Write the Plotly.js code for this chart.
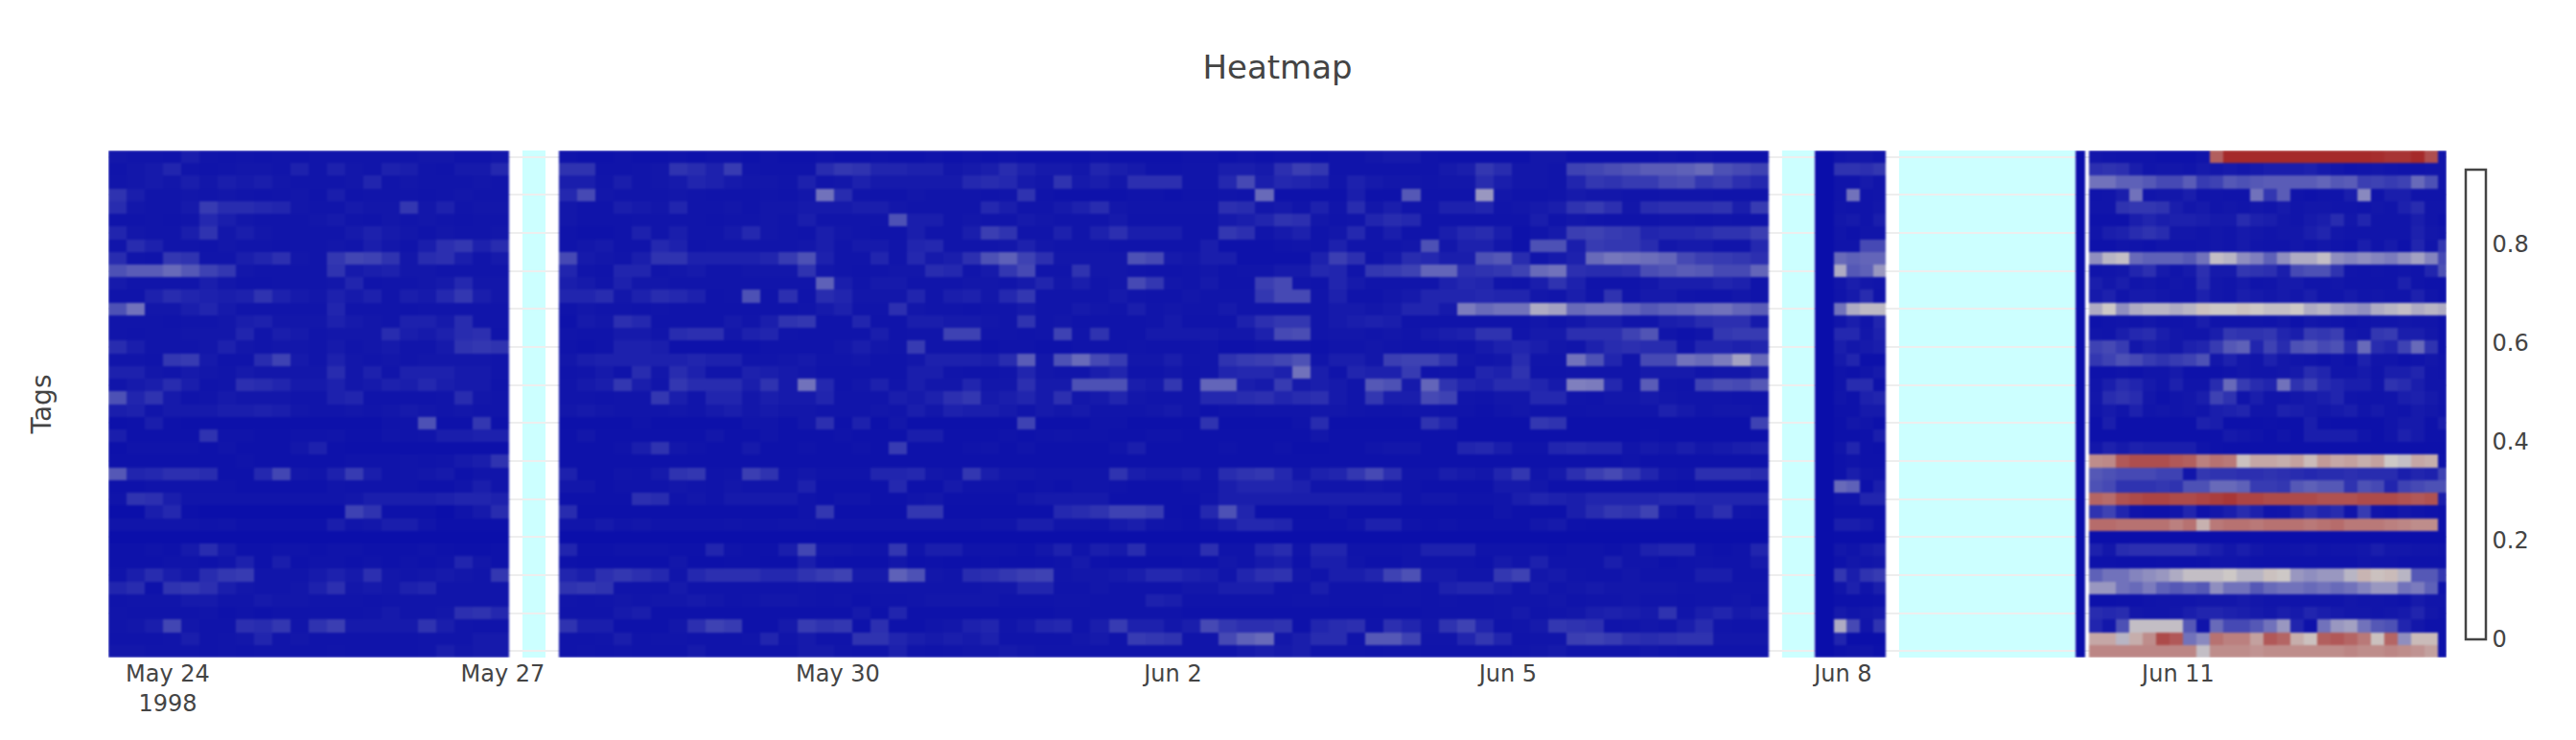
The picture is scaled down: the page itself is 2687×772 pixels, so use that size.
<!DOCTYPE html>
<html>
<head>
<meta charset="utf-8">
<script src="https://cdn.plot.ly/plotly-3.0.1.min.js"></script>
<style>html,body{margin:0;padding:0;background:#fff}
.heatmaplayer image{filter:blur(0.9px)}</style>
</head>
<body>
<div id="chart" style="width:2687px;height:772px"></div>
<script>
// Cell values in hundredths, one array per tag, top row first. null = no data.
const t00=[6,5,5,4,8,5,4,5,4,5,4,5,5,5,5,5,5,6,6,4,4,6, null, 4,3,3,4,3,3,4,3,4,4,3,4,3,3,4,3,3, 4,3,3,4,3,4,3,4,3,3,3,3,4,3,3,3,3, 4,4,3,4,3,4,4,3,4,4,6,7,7,4,3,3,3, 3,3,6,6,3,3,3,3,3,4,3,4,3,3,3, null,0, 5,6,6,4, null,0,null, 6,5,4,4,4,3,3,3,5,80,96,96,96,96,96,96,96,96,96,96,96,95,93,93,96,85, 5];
const t01=[4,6,7,10,5,4,5,6,6,5,9,5,9,6,5,9,8,5,4,7,7,11, null, 14,14,4,4,5,6,14,12,9,16,5,4,4,4,12,15,14, 10,10,9,9,6,7,8,12,9,7,7,6,10,8,7,4,4, 5,5,8,8,7,13,17,15,4,4,4,4,4,4,7,8,15, 12,6,6,5,18,19,21,23,25,25,26,28,22,20,18, null,0, 14,14,13,15, null,0,null, 13,14,13,8,5,6,6,5,7,6,7,6,7,8,8,8,9,7,6,4,5,6,5,4,4,5, 5];
const t02=[5,6,7,6,8,6,8,7,8,6,5,5,5,6,10,5,6,5,5,5,6,5, null, 8,8,5,8,5,6,7,10,9,7,6,6,5,9,5,6,9, 7,7,7,7,7,11,12,11,7,6,14,7,8,6,13,13,13, 5,5,11,20,8,11,10,9,5,9,7,6,6,5,6,6,12, 8,6,6,5,10,15,14,16,16,20,21,15,17,13,11, null,0, 4,4,7,5, null,0,null, 30,30,26,26,24,20,20,25,16,18,24,22,24,25,25,25,25,27,24,25,17,18,16,18,28,22, 5];
const t03=[14,8,5,5,6,5,6,5,4,5,6,4,8,4,5,5,5,4,5,6,5,5, null, 11,20,6,5,5,5,6,5,4,4,4,5,4,6,30,12,5, 4,4,6,5,5,5,4,5,14,4,3,3,3,3,4,4,3, 4,4,5,4,28,3,3,3,3,8,3,3,24,4,4,4,38, 6,4,4,5,7,6,6,5,4,5,5,5,4,4,4, null,0, 4,30,4,5, null,0,null, 4,5,8,30,5,6,6,8,4,5,4,4,30,15,25,4,3,4,4,8,35,4,8,8,4,4, 4];
const t04=[12,6,5,5,7,16,12,12,11,10,6,5,5,7,6,6,15,6,9,5,6,6, null, 6,4,4,8,7,6,10,5,5,6,4,6,6,7,7,7,8, 8,6,5,5,5,5,11,8,5,5,7,9,12,6,5,5,5, 5,5,13,12,6,7,5,9,5,12,6,8,5,5,9,9,10, 5,6,7,8,14,16,13,6,12,13,13,13,14,8,16, null,0, 5,4,4,6, null,0,null, 5,5,14,15,15,14,8,6,7,5,6,5,6,5,7,5,6,6,5,5,4,6,5,9,12,5, 5];
const t05=[4,4,5,4,5,11,8,6,5,5,5,6,7,5,4,6,5,6,5,4,5,5, null, 6,4,4,4,5,5,5,5,4,5,5,6,5,8,5,5,5, 5,22,8,8,5,6,5,5,7,6,5,5,5,7,4,4,4, 4,4,7,8,10,14,13,6,4,5,10,12,11,4,4,4,4, 4,4,8,4,6,5,4,4,4,5,5,4,5,4,4, null,0, 6,7,4,8, null,0,null, 3,3,3,8,10,8,9,9,8,7,7,12,9,8,6,5,7,8,12,6,10,5,5,5,8,5, 3];
const t06=[10,6,5,5,8,14,6,8,6,5,5,5,5,7,9,7,6,4,6,5,5,6, null, 4,3,3,4,9,5,8,5,5,7,11,6,5,4,8,6,5, 4,4,8,5,5,8,17,14,5,5,9,5,9,13,8,8,8, 4,4,15,13,5,7,9,4,6,11,5,8,4,4,8,11,12, 8,3,5,7,17,18,16,15,10,11,11,12,14,14,17, null,0, 5,3,5,5, null,0,null, 5,8,9,12,14,12,6,6,5,6,5,7,6,5,6,6,8,10,6,5,5,5,5,5,9,6, 5];
const t07=[5,12,9,5,5,4,6,5,5,4,5,5,6,5,8,6,4,8,13,15,9,12, null, 4,6,7,4,4,11,9,4,5,5,5,5,5,6,8,5,7, 7,5,10,11,5,5,5,6,9,6,5,5,5,4,4,4,4, 4,8,3,3,3,4,5,4,9,5,5,5,6,22,6,9,9, 6,3,22,22,8,16,15,15,12,6,7,7,5,5,11, null,0, 4,4,20,20, null,0,null, 3,3,5,4,3,5,4,4,5,6,5,7,5,4,4,6,4,6,4,3,8,4,7,3,10,5, 15];
const t08=[12,5,4,15,14,5,5,8,10,13,6,5,15,19,18,14,6,12,13,8,5,7, null, 20,7,6,5,8,14,14,9,9,9,9,10,16,22,9,5,5, 10,5,11,7,8,13,22,26,18,13,6,6,6,6,22,20,7, 6,8,8,3,3,3,3,9,17,13,4,7,12,11,8,8,22, 24,12,5,7,9,28,31,30,29,27,20,17,16,15,13, null,0, 28,26,27,27, null,0,null, 36,44,46,28,26,26,26,24,30,46,44,36,33,26,36,42,42,46,36,34,36,34,32,36,40,34, 20];
const t09=[22,25,25,28,24,18,15,6,5,5,5,5,14,7,8,9,6,6,5,5,5,5, null, 10,5,4,10,10,5,6,7,5,5,6,6,6,14,6,5,4, 5,6,6,12,11,5,7,15,20,5,5,14,6,6,5,4,4, 5,6,4,5,5,7,7,11,10,5,15,16,18,27,27,13,14, 15,18,28,30,13,12,12,13,21,23,25,24,20,20,27, null,0, 42,24,26,38, null,0,null, 4,5,6,10,13,7,5,7,13,7,7,15,14,13,8,20,22,22,14,5,4,5,4,5,4,10, 22];
const t10=[7,5,5,5,5,8,6,4,4,5,5,5,6,10,4,5,5,6,7,11,6,6, null, 8,7,5,9,6,6,5,5,5,5,5,5,5,5,26,8,5, 7,7,5,5,5,6,6,5,7,10,6,8,5,6,20,15,6, 5,7,4,4,17,20,5,4,10,7,5,5,5,5,9,11,10, 5,4,8,14,9,4,4,4,6,8,8,8,10,9,4, null,0, 5,8,6,5, null,0,null, 8,6,8,5,6,4,6,5,12,6,5,7,4,5,7,7,5,5,6,4,4,4,4,9,4,3, 3];
const t11=[4,4,9,12,10,9,8,9,14,9,7,6,9,7,9,5,8,7,11,15,8,6, null, 10,10,12,6,9,12,11,9,4,5,22,4,13,4,12,10,6, 6,6,10,5,8,9,6,11,15,5,5,5,5,7,5,4,4, 6,5,5,5,15,20,20,5,9,4,4,6,7,10,10,10,11, 10,10,6,5,8,5,14,5,7,7,5,4,4,6,4, null,0, 4,7,12,4, null,0,null, 7,9,5,7,7,6,5,5,9,6,5,8,7,6,7,6,8,5,5,7,5,6,5,5,9,5, 3];
const t12=[22,30,6,6,8,10,7,5,5,5,5,5,10,5,5,5,4,5,5,5,5,5, null, 4,6,5,5,4,5,4,4,4,4,4,4,4,5,7,9,5, 5,13,6,5,5,4,5,5,7,5,5,7,6,5,8,5,6, 5,5,7,5,5,5,5,5,7,7,6,7,10,10,7,32,28, 30,30,42,40,28,30,30,27,24,26,27,29,30,27,25, null,0, 30,42,45,45, null,0,null, 42,48,36,42,44,44,42,44,50,48,48,50,48,46,46,48,42,44,40,38,36,42,44,46,42,44, 42];
const t13=[5,5,5,4,5,5,6,8,9,6,6,6,9,7,6,5,9,9,7,12,5,5, null, 3,7,6,13,11,4,4,4,4,7,5,8,14,15,4,4,10, 4,4,8,8,7,7,6,5,14,5,6,4,4,4,4,5,7, 4,4,4,9,13,15,15,5,7,8,9,8,4,4,4,4,4, 4,4,6,4,6,8,8,5,5,8,9,12,13,13,7, null,0, 5,8,5,10, null,0,null, 3,4,5,4,6,4,4,5,8,4,4,4,5,4,6,3,6,5,4,3,4,5,5,6,5,5, 3];
const t14=[5,4,5,5,6,6,6,10,5,8,7,5,6,6,6,12,8,7,9,12,13,4, null, 5,4,4,7,7,5,12,13,13,6,9,10,5,4,4,4,4, 8,4,5,5,18,18,5,5,4,5,18,5,14,4,4,7,7, 7,7,6,6,9,20,21,5,6,6,5,6,5,7,8,9,14, 14,5,7,7,13,13,13,18,23,5,3,5,15,16,16, null,0, 11,11,6,9, null,0,null, 5,4,8,11,12,8,6,5,5,8,15,14,14,15,10,8,16,15,17,6,5,15,16,8,8,6, 3];
const t15=[12,8,5,5,5,6,9,6,5,6,6,5,7,5,6,7,5,5,7,14,15,14, null, 4,3,4,9,9,8,3,3,3,3,3,4,4,4,4,6,8, 6,5,16,5,5,5,3,4,4,3,3,4,4,4,5,4,4, 4,5,3,3,4,4,4,3,5,5,6,5,4,4,5,4,7, 9,10,8,6,5,9,12,13,12,12,5,10,10,9,10, null,0, 8,6,7,8, null,0,null, 18,20,16,6,8,7,6,9,10,16,24,26,10,18,12,22,24,20,22,12,28,12,10,18,28,14, 3];
const t16=[5,5,4,15,16,7,4,4,12,18,7,5,9,6,5,6,5,6,6,6,6,5, null, 6,8,9,9,9,9,9,10,9,9,5,5,6,7,5,5,6, 4,4,6,9,9,9,8,12,25,6,22,28,20,16,6,6,8, 5,5,14,16,17,19,22,5,8,8,6,17,18,18,14,6,5, 6,12,5,5,30,22,10,5,20,20,30,28,32,40,28, null,0, 7,10,2,2, null,0,null, 15,18,22,20,16,14,16,18,22,6,9,6,5,9,6,5,4,3,5,3,9,5,5,3,4,6, 4];
const t17=[9,9,6,5,7,6,5,7,6,6,6,6,12,6,9,5,9,9,9,7,7,5, null, 4,5,7,4,12,6,12,9,5,5,9,8,7,6,4,4,4, 4,4,8,8,5,4,4,5,10,6,5,5,8,10,4,4,6, 4,5,10,11,11,9,30,8,4,10,9,9,16,4,5,4,10, 9,14,4,4,5,5,5,5,7,7,7,5,6,6,8, null,0, 4,3,5,7, null,0,null, 3,3,4,3,5,5,7,3,3,3,4,6,5,5,6,7,12,10,5,5,7,4,8,8,10,5, 4];
const t18=[5,7,8,12,8,4,5,13,12,10,7,7,9,6,7,9,8,11,8,7,7,4, null, 5,7,8,15,8,5,15,12,12,12,8,14,7,30,11,4,6, 9,5,8,6,6,10,6,6,13,7,7,22,22,22,8,7,15, 5,27,27,8,7,16,7,8,7,5,24,22,7,27,14,10,9, 12,12,10,7,33,32,11,5,25,5,4,18,21,20,24, null,0, 4,12,12,3, null,0,null, 5,8,12,10,7,5,9,5,5,12,28,16,12,10,30,14,18,12,10,8,8,5,14,12,8,5, 5];
const t19=[22,10,14,7,4,5,7,6,6,6,5,5,9,10,4,4,4,4,5,12,6,5, null, 5,5,4,5,5,15,8,5,10,10,6,8,7,7,10,5,5, 5,8,7,9,13,15,7,8,10,7,13,6,7,10,6,5,5, 5,11,11,12,13,10,12,13,7,5,15,8,8,20,18,5,4, 6,6,11,11,5,4,6,6,7,6,5,5,5,4,4, null,0, 5,3,9,10, null,0,null, 6,12,14,12,6,3,5,6,8,18,14,4,8,5,5,6,7,8,10,5,4,4,5,8,9,7, 5];
const t20=[8,9,5,7,7,7,8,8,9,8,6,5,5,6,5,6,7,6,5,6,5,5, null, 6,7,6,5,5,5,6,5,7,8,6,7,6,6,5,5,5, 6,5,8,6,9,8,8,7,5,7,6,7,5,5,5,6,7, 5,3,4,4,5,5,5,6,6,5,4,4,5,5,4,4,3, 5,6,4,4,4,5,5,5,5,9,7,5,6,6,5, null,0, 3,3,7,7, null,0,null, 5,7,5,9,5,6,5,6,5,8,9,10,5,5,9,8,7,6,7,8,5,7,5,4,7,6, 4];
const t21=[2,3,8,3,2,2,2,2,2,2,2,2,2,2,2,4,4,22,3,3,15,3, null, 2,2,2,2,4,2,2,2,2,2,5,5,3,6,13,3,9, 2,6,2,2,2,2,2,2,18,2,2,2,4,4,2,2,2, 2,14,2,2,2,2,4,12,2,2,2,2,2,14,10,2,2, 2,2,15,14,2,2,2,2,2,2,2,2,2,2,18, null,0, 2,6,5,2, null,0,null, 2,8,2,2,2,2,2,2,9,8,2,2,2,3,2,2,8,3,2,2,2,2,5,7,7,3, 8];
const t22=[8,3,3,3,3,14,4,4,3,3,4,4,5,3,3,5,4,5,8,8,9,9, null, 3,6,3,3,3,3,3,3,6,3,3,5,3,3,3,4,3, 3,3,8,8,3,3,3,4,3,4,5,4,4,3,3,4,4, 3,3,3,3,3,3,3,6,3,3,3,3,3,3,3,2,2, 2,2,2,2,2,2,2,2,3,2,2,2,2,2,2, null,0, 2,2,3,8, null,0,null, 2,2,2,2,2,2,2,2,2,3,7,6,4,2,5,2,8,8,8,8,5,2,5,9,7,3, 3];
const t23=[2,4,4,4,4,3,5,3,3,3,6,9,3,2,2,2,2,2,2,2,2,2, null, 3,3,3,4,8,14,6,4,3,3,7,3,3,4,3,3,4, 3,16,3,3,3,4,5,3,5,3,3,3,3,5,8,3,3, 3,3,4,3,3,4,2,2,3,3,5,6,6,3,3,10,11, 8,4,4,10,11,10,10,5,7,6,8,6,7,8,9, null,0, 5,10,3,2, null,0,null, 6,9,7,9,8,8,8,8,4,3,2,2,2,2,2,2,2,2,2,2,2,2,2,2,2,2, 2];
const t24=[3,3,3,3,3,3,3,4,3,3,3,3,3,4,4,4,5,4,5,7,8,14, null, 3,3,3,3,3,3,3,3,3,3,3,3,3,3,3,3,3, 3,3,3,3,3,3,3,3,3,3,3,3,3,3,3,3,3, 3,3,3,3,3,3,3,3,3,3,3,3,3,3,3,3,3, 3,3,3,3,3,3,3,4,3,3,3,3,3,3,3, null,0, 3,4,3,3, null,0,null, 66,67,82,85,85,85,82,80,70,74,72,50,58,58,56,60,52,62,58,60,56,60,48,46,58,56, 3];
const t25=[24,10,11,13,13,12,3,3,11,19,6,5,9,16,8,4,5,6,7,3,5,5, null, 9,3,3,5,4,7,14,15,4,5,17,14,4,6,4,4,4, 10,10,11,6,5,15,8,6,6,5,5,5,5,14,8,7,7, 8,5,12,14,15,11,6,9,10,15,20,13,5,5,8,7,6, 10,15,5,7,13,17,20,15,10,6,5,13,13,13,12, null,0, 3,8,5,4, null,0,null, 24,22,20,20,20,18,18,5,15,14,14,13,13,14,13,12,11,12,12,13,12,12,12,8,10,9, 18];
const t26=[3,3,4,4,4,4,4,3,3,3,3,3,5,4,4,4,4,3,3,5,8,5, null, 6,6,3,4,4,4,6,5,4,6,5,5,5,9,3,3,3, 3,11,3,3,7,4,4,4,3,4,3,5,5,4,3,3,3, 4,4,8,10,10,10,9,5,5,5,6,5,4,3,3,3,3, 7,7,6,3,3,3,3,3,3,3,2,3,3,3,3, null,0, 28,26,2,8, null,0,null, 22,20,14,14,14,15,14,22,22,28,28,26,16,16,15,24,26,24,24,14,22,20,10,18,20,22, 22];
const t27=[4,14,13,8,5,5,5,5,5,5,5,5,5,6,8,8,8,8,9,10,10,9, null, 3,3,3,3,13,12,4,6,4,7,7,7,7,4,3,5,5, 3,3,5,6,3,3,3,3,6,7,7,7,7,3,3,3,3, 3,5,8,8,8,8,8,8,8,8,8,8,4,6,6,4,4, 5,8,10,9,8,10,10,10,10,11,11,10,10,10,10, null,0, 4,4,10,10, null,0,null, 78,76,84,86,88,88,86,86,88,90,92,88,88,86,86,86,86,84,84,84,86,86,86,84,82,84, 8];
const t28=[1,1,8,11,2,1,1,1,1,1,1,1,1,18,14,3,3,3,1,4,7,12, null, 12,2,2,2,2,2,2,2,2,2,2,2,2,4,15,2,2, 2,2,15,15,2,2,2,2,2,2,11,12,14,18,18,16,3, 2,11,22,10,2,2,2,2,5,2,2,2,2,2,2,2,2, 5,3,2,2,8,12,15,14,18,6,3,9,13,5,4, null,0, 2,2,2,2, null,0,null, 14,18,10,4,3,3,5,10,3,6,8,12,9,4,5,9,13,10,12,4,16,4,3,6,4,3, 2];
const t29=[5,5,5,5,5,4,5,3,3,3,3,3,8,5,6,8,8,5,2,2,2,2, null, 5,5,7,5,6,4,4,4,4,5,4,4,5,5,4,4,4, 4,4,4,4,4,4,5,5,8,8,5,5,4,7,8,5,4, 3,5,8,11,11,10,3,3,3,5,9,9,4,3,4,3,3, 3,3,6,7,3,2,2,2,2,2,2,2,2,2,2, null,0, 8,8,7,3, null,0,null, 76,76,74,74,74,74,70,74,55,72,74,74,72,74,74,74,72,74,76,72,72,72,70,68,66,66, 2];
const t30=[1,1,1,1,1,1,1,1,1,1,1,1,1,1,1,1,1,1,1,1,1,1, null, 1,1,1,1,1,1,1,1,1,1,1,1,1,1,1,1,1, 1,1,1,1,1,1,1,1,1,1,1,1,1,1,1,1,1, 1,1,1,1,1,1,1,1,1,1,1,1,1,1,1,1,1, 1,1,1,1,1,1,1,1,1,1,1,1,1,1,1, null,0, 1,1,1,1, null,0,null, 1,1,1,1,1,1,1,1,1,1,1,1,1,1,1,1,1,1,1,1,1,1,1,1,1,1, 1];
const t31=[3,3,4,3,7,12,7,3,3,4,4,3,4,4,3,3,3,4,3,2,2,3, null, 10,3,3,4,4,4,3,3,10,4,3,3,8,19,6,6,5, 4,15,4,8,8,4,4,4,3,6,9,4,8,7,12,4,4, 4,13,4,4,10,12,4,10,10,4,4,4,5,9,9,9,4, 4,4,4,3,4,4,3,5,9,10,10,4,3,4,10, null,0, 6,4,7,8, null,0,null, 9,6,12,13,13,13,13,13,10,8,6,8,6,4,4,5,6,4,5,5,6,8,6,6,5,5, 4];
const t32=[3,3,3,4,4,3,5,9,3,8,3,4,4,3,4,3,4,3,4,10,6,3, null, 3,2,2,2,2,2,6,2,2,3,3,2,2,8,3,2,2, 2,6,2,3,2,2,3,2,2,3,4,7,3,2,2,2,2, 3,3,6,4,7,8,3,8,8,5,3,3,5,4,4,4,3, 7,5,9,4,4,4,8,5,5,3,4,5,4,4,7, null,0, 3,6,5,6, null,0,null, 3,3,2,2,2,3,2,2,3,5,5,4,3,3,3,3,3,3,3,3,5,4,4,3,3,3, 3];
const t33=[4,8,12,8,6,12,15,16,5,5,5,7,9,7,13,6,5,6,7,6,5,15, null, 10,8,13,15,13,11,5,11,13,13,13,11,11,14,16,18,7, 7,26,22,6,5,12,13,15,17,18,5,6,6,7,8,11,11, 9,8,5,10,13,14,6,4,8,8,10,18,22,7,7,5,5, 15,18,6,7,5,4,4,6,4,4,4,8,8,4,4, null,0, 15,8,14,16, null,0,null, 26,30,30,34,36,38,42,46,46,46,48,44,44,50,48,38,36,38,38,44,54,50,52,44,24,24, 15];
const t34=[10,12,3,14,15,13,8,6,5,5,6,9,13,6,7,6,9,10,5,5,5,5, null, 14,15,14,4,4,4,7,4,4,4,4,4,4,5,4,4,4, 5,5,5,5,5,5,6,6,10,10,4,4,6,4,4,4,4, 6,6,8,8,8,4,4,8,4,4,4,4,5,4,9,10,10, 8,5,7,5,6,7,6,6,6,6,5,5,5,5,5, null,0, 5,9,4,8, null,0,null, 38,38,30,28,32,26,24,26,24,36,30,30,24,28,30,30,28,30,28,30,34,38,38,30,32,26, 3];
const t35=[4,5,5,5,7,7,5,5,7,6,6,5,5,5,4,5,5,5,5,5,5,5, null, 5,4,5,6,5,6,6,7,6,4,5,6,6,5,4,5,3, 4,4,5,6,6,6,6,4,4,4,5,5,4,4,4,9,8, 4,4,4,4,4,4,5,5,4,4,4,5,5,4,5,4,4, 5,5,5,6,4,5,5,6,5,5,4,5,5,6,4, null,0, 2,2,2,3, null,0,null, 2,2,3,3,4,5,5,5,6,6,6,7,6,5,5,4,4,4,4,6,5,5,4,3,7,5, 5];
const t36=[5,4,4,4,4,5,3,4,3,4,4,4,4,4,5,7,5,5,6,13,14,11, null, 4,4,4,7,8,3,3,3,3,3,3,3,3,3,3,3,7, 3,10,3,3,3,3,3,3,3,3,4,4,4,4,4,4,4, 3,3,3,3,3,3,3,3,3,3,3,3,3,4,4,4,4, 5,7,4,5,6,8,9,8,7,14,5,8,10,7,8, null,0, 7,5,6,7, null,0,null, 12,11,12,6,5,5,6,8,10,10,9,8,7,6,8,7,10,8,7,6,6,5,6,7,10,6, 4];
const t37=[5,6,8,19,6,4,4,13,12,15,5,14,17,7,7,7,7,14,8,5,4,4, null, 14,8,8,3,3,3,6,13,18,16,3,3,7,16,14,15,3, 13,3,3,5,6,9,10,5,7,10,11,4,8,16,9,9,6, 8,20,15,13,13,14,3,10,12,13,4,13,10,6,14,18,10, 4,5,7,15,14,13,4,5,6,5,8,12,5,4,4, null,0, 42,20,5,14, null,0,null, 10,6,22,46,46,46,46,24,4,28,20,20,24,30,38,10,3,30,38,40,30,24,22,10,6,3, 3];
const t38=[4,4,4,5,8,4,5,6,10,5,6,4,4,4,4,4,4,5,5,5,7,7, null, 4,4,5,8,4,5,5,4,4,4,5,10,5,7,4,4,14, 14,10,8,7,8,7,9,4,4,4,4,6,7,4,16,15,14, 4,5,20,26,28,6,8,12,12,4,24,24,18,5,5,10,15, 10,4,5,5,17,18,16,13,12,13,14,14,6,6,6, null,0, 10,1,1,1, null,0,null, 58,58,44,56,66,86,82,30,35,74,70,70,60,82,78,56,50,80,82,78,72,50,78,36,52,52, 3];
const t39=[6,6,5,5,5,4,5,4,5,5,4,4,5,4,4,4,4,5,8,6,7,7, null, 4,5,4,5,4,4,4,7,4,4,4,4,4,7,7,5,4, 5,9,5,4,5,6,6,7,6,5,5,5,4,4,4,4,4, 4,5,5,7,8,7,8,5,5,5,4,5,5,4,4,4,4, 4,5,6,7,5,5,5,5,6,5,4,4,4,4,4, null,0, 3,4,5,2, null,0,null, 68,68,68,68,68,68,68,68,46,66,66,66,64,66,66,66,66,66,66,68,66,66,68,66,64,60, 3];
const tagRows=[t00,t01,t02,t03,t04,t05,t06,t07,t08,t09,t10,t11,t12,t13,t14,t15,t16,t17,t18,t19,t20,t21,t22,t23,t24,t25,t26,t27,t28,t29,t30,t31,t32,t33,t34,t35,t36,t37,t38,t39];

// Time blocks of the columns, in hours after 1998-05-24 00:00: [start, end, column count]
const timeBlocks=[[-12.77,73.34,22],[73.34,84.05,1],[84.05,344,66],[344,353.9,1],[353.9,358,1],[358,369.2,4],[369.2,409.96,1],[409.96,412,1],[412,412.8,1],[412.8,487.8,26],[487.8,489.7,1]];
// Highlighted spans, same hours
const highlightSpans=[[76.22,81.17],[346.9,353.9],[372.05,409.96]];
const axisRangeHours=[-12.77,489.7];
const colorRange=[0,0.96];
const colorbarRange=[0,0.95];

const T0=Date.UTC(1998,4,24);
const iso=h=>new Date(T0+h*3600000).toISOString().replace('T',' ').replace('Z','');
const edges=[];
timeBlocks.forEach(([a,b,n],k)=>{
  for(let i=(k===0?0:1);i<=n;i++) edges.push(iso(a+(b-a)*i/n));
});
const ncols=edges.length-1;
tagRows.forEach((r,i)=>{ if(r.length!==ncols) throw new Error('row '+i+' has '+r.length+' not '+ncols); });
const z=tagRows.map(r=>r.map(v=>v===null?null:v/100));
const y=tagRows.map((_,i)=>i);

const FONT='"DejaVu Sans", Verdana, sans-serif';
const data=[{
  type:'heatmap',x:edges,y:y,z:z,zmin:colorRange[0],zmax:colorRange[1],
  colorscale:[[0,'rgb(10,14,170)'],[0.06,'rgb(18,22,170)'],[0.12,'rgb(38,42,175)'],[0.25,'rgb(85,88,182)'],[0.35,'rgb(130,130,190)'],[0.5,'rgb(205,200,198)'],[1,'rgb(165,42,42)']],
  showscale:false,hoverongaps:false
},{
  type:'scatter',mode:'markers',x:[iso(100),iso(200)],y:[10,20],
  showlegend:false,hoverinfo:'skip',
  marker:{opacity:0,size:1,color:colorbarRange,cmin:colorbarRange[0],cmax:colorbarRange[1],
    colorscale:[[0,'#ffffff'],[1,'#ffffff']],showscale:true,
    colorbar:{x:1.0082,xanchor:'left',xpad:0,ypad:0,y:0.4995,yanchor:'middle',
      lenmode:'pixels',len:490,thicknessmode:'pixels',thickness:21,
      outlinecolor:'#444',outlinewidth:2.5,borderwidth:0,
      tickvals:[0,0.2,0.4,0.6,0.8],ticktext:['0','0.2','0.4','0.6','0.8'],
      ticks:'',tickfont:{size:24,color:'#444',family:FONT}}}
}];
const layout={
  width:2687,height:772,
  margin:{l:113,r:135,t:157,b:86,pad:0},
  paper_bgcolor:'#fff',plot_bgcolor:'#fff',
  font:{family:FONT,color:'#444'},
  title:{text:'Heatmap',x:0.5,xref:'paper',xanchor:'center',y:0.909,yanchor:'middle',font:{size:34,color:'#444',family:FONT}},
  xaxis:{type:'date',range:[iso(axisRangeHours[0]),iso(axisRangeHours[1])],tick0:'1998-05-24',dtick:3*86400000,
    showgrid:false,zeroline:false,ticks:'',tickfont:{size:24,color:'#444',family:FONT},automargin:false},
  yaxis:{type:'linear',range:[39.5,-0.5],tick0:0,dtick:3,showticklabels:false,
    showgrid:true,gridcolor:'#eee',gridwidth:2,zeroline:false,ticks:'',automargin:false,
    title:{text:'Tags',standoff:50,font:{size:28,color:'#444',family:FONT}}},
  shapes:highlightSpans.map(s=>({type:'rect',xref:'x',yref:'paper',x0:iso(s[0]),x1:iso(s[1]),y0:0,y1:1,
    fillcolor:'cyan',opacity:0.2,line:{width:0},layer:'between'}))
};
Plotly.newPlot('chart',data,layout,{displayModeBar:false,responsive:false});
</script>
</body>
</html>
